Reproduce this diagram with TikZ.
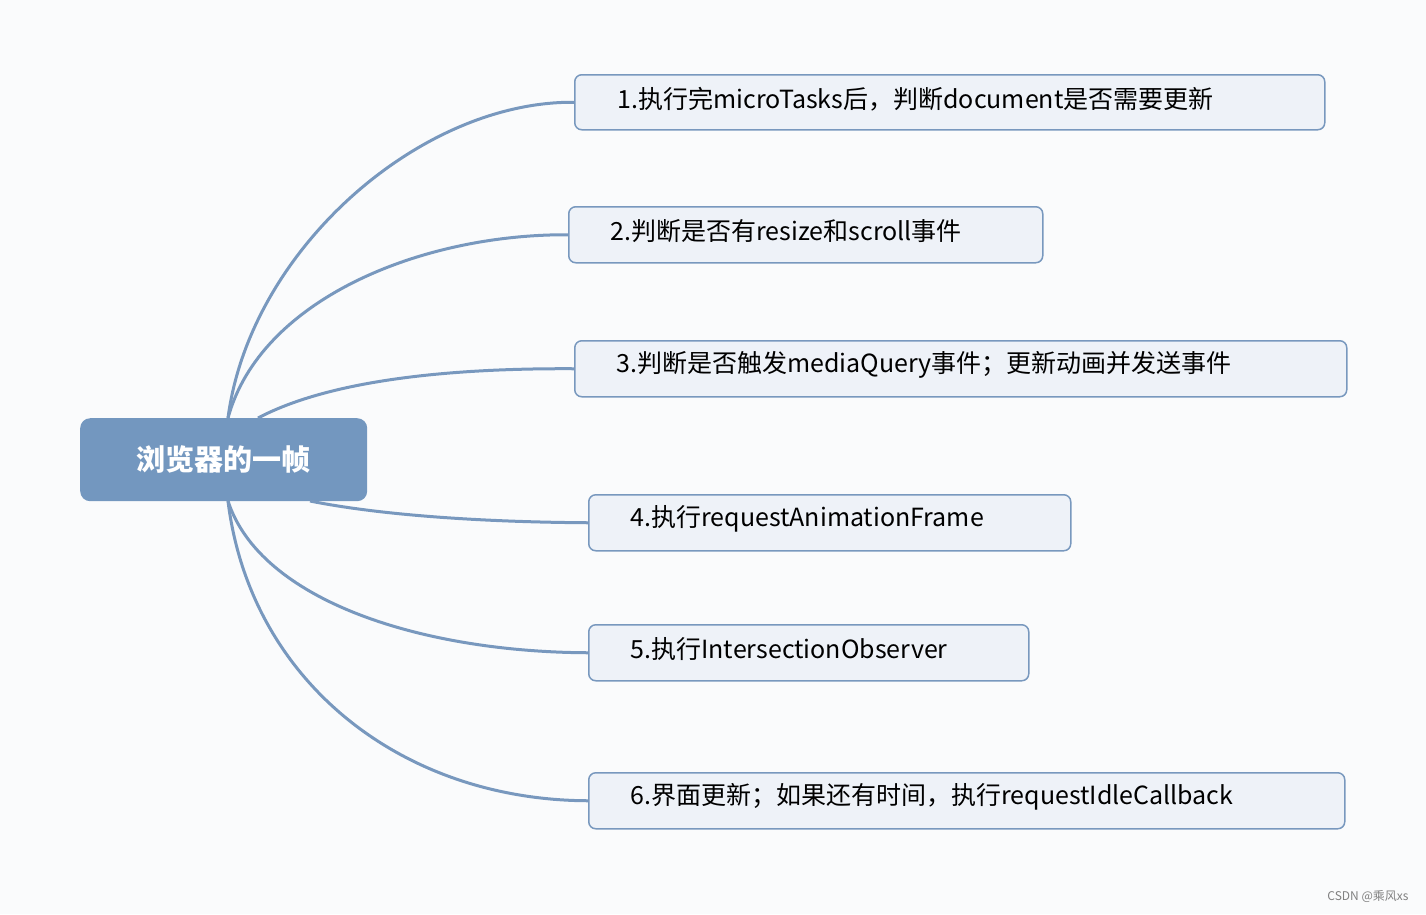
\documentclass[tikz,border=0pt]{standalone}
\usepackage{fontspec}
\setmainfont{Noto Sans CJK SC}
\definecolor{bg}{HTML}{FAFBFC}
\definecolor{bfill}{HTML}{EEF2F8}
\definecolor{bline}{HTML}{7898BE}
\definecolor{rootc}{HTML}{7397BF}
\begin{document}
\begin{tikzpicture}[x=1pt,y=-1pt,
  item/.style={draw=bline,line width=1.5pt,fill=bfill,rounded corners=7pt,anchor=north west,inner sep=0pt,text depth=0pt,font=\fontsize{25}{28}\selectfont},
  conn/.style={draw=bline,line width=3pt}]
\fill[bg] (0,0) rectangle (1426,914);
\useasboundingbox (0,0) rectangle (1426,914);
\node[fill=rootc,rounded corners=10pt,minimum width=287pt,minimum height=83pt,anchor=north west,text=white,font=\fontsize{29}{32}\selectfont\bfseries] (root) at (80,418) {浏览器的一帧};
\node[item,minimum width=750pt,minimum height=55pt] (b1) at (574,74) {};
\node[anchor=west,font=\fontsize{25}{28}\selectfont] (t1) at (614,99) {1.执行完microTasks后，判断document是否需要更新};
\node[item,minimum width=474pt,minimum height=56pt] (b2) at (568,206) {};
\node[anchor=west,font=\fontsize{25}{28}\selectfont] (t2) at (607,231) {2.判断是否有resize和scroll事件};
\node[item,minimum width=772pt,minimum height=56pt] (b3) at (574,340) {};
\node[anchor=west,font=\fontsize{25}{28}\selectfont] (t3) at (613,365) {3.判断是否触发mediaQuery事件；更新动画并发送事件};
\node[item,minimum width=482pt,minimum height=56pt] (b4) at (588,494) {};
\node[anchor=west,font=\fontsize{25}{28}\selectfont] (t4) at (627,519) {4.执行requestAnimationFrame};
\node[item,minimum width=440pt,minimum height=56pt] (b5) at (588,624) {};
\node[anchor=west,font=\fontsize{25}{28}\selectfont] (t5) at (627,649) {5.执行IntersectionObserver};
\node[item,minimum width=756pt,minimum height=56pt] (b6) at (588,772) {};
\node[anchor=west,font=\fontsize{25}{28}\selectfont] (t6) at (627,797) {6.界面更新；如果还有时间，执行requestIdleCallback};
\node[anchor=south east,text=gray,font=\fontsize{12}{14}\selectfont] (wm) at (1412,906) {CSDN @乘风xs};
\coordinate (rt) at (228,418);
\coordinate (rt3) at (258,418);
\coordinate (rb) at (228,501);
\coordinate (rb4) at (310,501);
\draw[conn] (rt) .. controls (250,250) and (420,101) .. (b1.west);
\draw[conn] (rt) .. controls (260,300) and (420,234) .. (b2.west);
\draw[conn] (rt3) .. controls (330,380) and (450,368) .. (b3.west);
\draw[conn] (rb4) .. controls (380,515) and (480,522) .. (b4.west);
\draw[conn] (rb) .. controls (260,600) and (420,652) .. (b5.west);
\draw[conn] (rb) .. controls (250,680) and (400,800) .. (b6.west);
\end{tikzpicture}
\end{document}
